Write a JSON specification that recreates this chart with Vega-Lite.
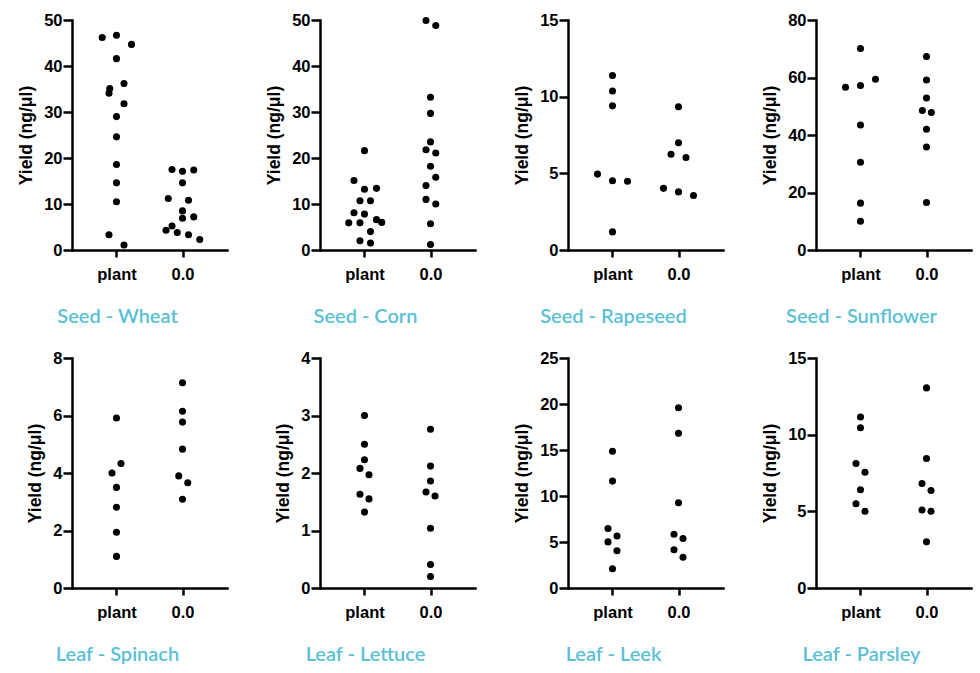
{
  "$schema": "https://vega.github.io/schema/vega-lite/v6.json",
  "background": "white",
  "padding": {"left": 17, "top": 12, "right": 5, "bottom": 5},
  "datasets": {
    "yields": [
      {"panel": "Seed - Wheat", "group": "plant", "yield": 46.2, "lane": -1.9},
      {"panel": "Seed - Wheat", "group": "plant", "yield": 46.7, "lane": 0},
      {"panel": "Seed - Wheat", "group": "plant", "yield": 44.7, "lane": 2},
      {"panel": "Seed - Wheat", "group": "plant", "yield": 41.6, "lane": 0},
      {"panel": "Seed - Wheat", "group": "plant", "yield": 36.2, "lane": 1},
      {"panel": "Seed - Wheat", "group": "plant", "yield": 35.1, "lane": -0.9},
      {"panel": "Seed - Wheat", "group": "plant", "yield": 34.1, "lane": -1},
      {"panel": "Seed - Wheat", "group": "plant", "yield": 31.8, "lane": 1},
      {"panel": "Seed - Wheat", "group": "plant", "yield": 29.0, "lane": 0},
      {"panel": "Seed - Wheat", "group": "plant", "yield": 24.6, "lane": 0},
      {"panel": "Seed - Wheat", "group": "plant", "yield": 18.6, "lane": 0},
      {"panel": "Seed - Wheat", "group": "plant", "yield": 14.6, "lane": 0},
      {"panel": "Seed - Wheat", "group": "plant", "yield": 10.5, "lane": 0},
      {"panel": "Seed - Wheat", "group": "plant", "yield": 3.3, "lane": -1},
      {"panel": "Seed - Wheat", "group": "plant", "yield": 1.1, "lane": 1},
      {"panel": "Seed - Wheat", "group": "0.0", "yield": 17.5, "lane": -1.4},
      {"panel": "Seed - Wheat", "group": "0.0", "yield": 17.1, "lane": 0},
      {"panel": "Seed - Wheat", "group": "0.0", "yield": 17.4, "lane": 1.5},
      {"panel": "Seed - Wheat", "group": "0.0", "yield": 14.6, "lane": 0},
      {"panel": "Seed - Wheat", "group": "0.0", "yield": 11.2, "lane": -1.9},
      {"panel": "Seed - Wheat", "group": "0.0", "yield": 10.8, "lane": 0.8},
      {"panel": "Seed - Wheat", "group": "0.0", "yield": 8.5, "lane": 0},
      {"panel": "Seed - Wheat", "group": "0.0", "yield": 6.9, "lane": 0},
      {"panel": "Seed - Wheat", "group": "0.0", "yield": 7.2, "lane": 1.5},
      {"panel": "Seed - Wheat", "group": "0.0", "yield": 5.2, "lane": -1.4},
      {"panel": "Seed - Wheat", "group": "0.0", "yield": 4.3, "lane": -2.2},
      {"panel": "Seed - Wheat", "group": "0.0", "yield": 3.8, "lane": -0.7},
      {"panel": "Seed - Wheat", "group": "0.0", "yield": 3.3, "lane": 0.8},
      {"panel": "Seed - Wheat", "group": "0.0", "yield": 2.3, "lane": 2.3},

      {"panel": "Seed - Corn", "group": "plant", "yield": 21.6, "lane": 0},
      {"panel": "Seed - Corn", "group": "plant", "yield": 15.1, "lane": -1.4},
      {"panel": "Seed - Corn", "group": "plant", "yield": 13.2, "lane": 0},
      {"panel": "Seed - Corn", "group": "plant", "yield": 13.4, "lane": 1.6},
      {"panel": "Seed - Corn", "group": "plant", "yield": 10.7, "lane": -0.6},
      {"panel": "Seed - Corn", "group": "plant", "yield": 10.7, "lane": 0.8},
      {"panel": "Seed - Corn", "group": "plant", "yield": 8.1, "lane": -1.4},
      {"panel": "Seed - Corn", "group": "plant", "yield": 7.8, "lane": 0},
      {"panel": "Seed - Corn", "group": "plant", "yield": 5.9, "lane": -2.1},
      {"panel": "Seed - Corn", "group": "plant", "yield": 5.9, "lane": -0.6},
      {"panel": "Seed - Corn", "group": "plant", "yield": 6.6, "lane": 1.6},
      {"panel": "Seed - Corn", "group": "plant", "yield": 6.0, "lane": 2.3},
      {"panel": "Seed - Corn", "group": "plant", "yield": 4.0, "lane": 0.8},
      {"panel": "Seed - Corn", "group": "plant", "yield": 2.0, "lane": -0.6},
      {"panel": "Seed - Corn", "group": "plant", "yield": 1.5, "lane": 0.8},
      {"panel": "Seed - Corn", "group": "0.0", "yield": 49.9, "lane": -0.6},
      {"panel": "Seed - Corn", "group": "0.0", "yield": 48.8, "lane": 0.7},
      {"panel": "Seed - Corn", "group": "0.0", "yield": 33.2, "lane": 0},
      {"panel": "Seed - Corn", "group": "0.0", "yield": 29.7, "lane": 0},
      {"panel": "Seed - Corn", "group": "0.0", "yield": 23.5, "lane": 0},
      {"panel": "Seed - Corn", "group": "0.0", "yield": 21.8, "lane": -0.6},
      {"panel": "Seed - Corn", "group": "0.0", "yield": 21.1, "lane": 0.7},
      {"panel": "Seed - Corn", "group": "0.0", "yield": 18.2, "lane": 0},
      {"panel": "Seed - Corn", "group": "0.0", "yield": 15.8, "lane": 0.7},
      {"panel": "Seed - Corn", "group": "0.0", "yield": 14.0, "lane": -0.6},
      {"panel": "Seed - Corn", "group": "0.0", "yield": 11.0, "lane": -0.6},
      {"panel": "Seed - Corn", "group": "0.0", "yield": 10.0, "lane": 0.7},
      {"panel": "Seed - Corn", "group": "0.0", "yield": 5.7, "lane": 0},
      {"panel": "Seed - Corn", "group": "0.0", "yield": 1.2, "lane": 0},

      {"panel": "Seed - Rapeseed", "group": "plant", "yield": 11.38, "lane": 0},
      {"panel": "Seed - Rapeseed", "group": "plant", "yield": 10.37, "lane": 0},
      {"panel": "Seed - Rapeseed", "group": "plant", "yield": 9.4, "lane": 0},
      {"panel": "Seed - Rapeseed", "group": "plant", "yield": 4.95, "lane": -2},
      {"panel": "Seed - Rapeseed", "group": "plant", "yield": 4.52, "lane": 0},
      {"panel": "Seed - Rapeseed", "group": "plant", "yield": 4.48, "lane": 2},
      {"panel": "Seed - Rapeseed", "group": "plant", "yield": 1.18, "lane": 0},
      {"panel": "Seed - Rapeseed", "group": "0.0", "yield": 9.34, "lane": 0},
      {"panel": "Seed - Rapeseed", "group": "0.0", "yield": 6.99, "lane": 0},
      {"panel": "Seed - Rapeseed", "group": "0.0", "yield": 6.24, "lane": -1},
      {"panel": "Seed - Rapeseed", "group": "0.0", "yield": 6.03, "lane": 1},
      {"panel": "Seed - Rapeseed", "group": "0.0", "yield": 4.02, "lane": -2},
      {"panel": "Seed - Rapeseed", "group": "0.0", "yield": 3.79, "lane": 0},
      {"panel": "Seed - Rapeseed", "group": "0.0", "yield": 3.55, "lane": 2},

      {"panel": "Seed - Sunflower", "group": "plant", "yield": 70.1, "lane": 0},
      {"panel": "Seed - Sunflower", "group": "plant", "yield": 59.4, "lane": 2},
      {"panel": "Seed - Sunflower", "group": "plant", "yield": 57.2, "lane": 0},
      {"panel": "Seed - Sunflower", "group": "plant", "yield": 56.6, "lane": -2},
      {"panel": "Seed - Sunflower", "group": "plant", "yield": 43.5, "lane": 0},
      {"panel": "Seed - Sunflower", "group": "plant", "yield": 30.5, "lane": 0},
      {"panel": "Seed - Sunflower", "group": "plant", "yield": 16.3, "lane": 0},
      {"panel": "Seed - Sunflower", "group": "plant", "yield": 10.0, "lane": 0},
      {"panel": "Seed - Sunflower", "group": "0.0", "yield": 67.3, "lane": 0},
      {"panel": "Seed - Sunflower", "group": "0.0", "yield": 59.1, "lane": 0},
      {"panel": "Seed - Sunflower", "group": "0.0", "yield": 52.9, "lane": 0},
      {"panel": "Seed - Sunflower", "group": "0.0", "yield": 48.5, "lane": -0.55},
      {"panel": "Seed - Sunflower", "group": "0.0", "yield": 47.8, "lane": 0.65},
      {"panel": "Seed - Sunflower", "group": "0.0", "yield": 42.0, "lane": 0},
      {"panel": "Seed - Sunflower", "group": "0.0", "yield": 35.8, "lane": 0},
      {"panel": "Seed - Sunflower", "group": "0.0", "yield": 16.5, "lane": 0},

      {"panel": "Leaf - Spinach", "group": "plant", "yield": 5.91, "lane": 0},
      {"panel": "Leaf - Spinach", "group": "plant", "yield": 4.33, "lane": 0.6},
      {"panel": "Leaf - Spinach", "group": "plant", "yield": 4.0, "lane": -0.6},
      {"panel": "Leaf - Spinach", "group": "plant", "yield": 3.5, "lane": 0},
      {"panel": "Leaf - Spinach", "group": "plant", "yield": 2.81, "lane": 0},
      {"panel": "Leaf - Spinach", "group": "plant", "yield": 1.94, "lane": 0},
      {"panel": "Leaf - Spinach", "group": "plant", "yield": 1.1, "lane": 0},
      {"panel": "Leaf - Spinach", "group": "0.0", "yield": 7.14, "lane": 0},
      {"panel": "Leaf - Spinach", "group": "0.0", "yield": 6.15, "lane": 0},
      {"panel": "Leaf - Spinach", "group": "0.0", "yield": 5.77, "lane": 0},
      {"panel": "Leaf - Spinach", "group": "0.0", "yield": 4.83, "lane": 0},
      {"panel": "Leaf - Spinach", "group": "0.0", "yield": 3.9, "lane": -0.5},
      {"panel": "Leaf - Spinach", "group": "0.0", "yield": 3.66, "lane": 0.7},
      {"panel": "Leaf - Spinach", "group": "0.0", "yield": 3.09, "lane": 0},

      {"panel": "Leaf - Lettuce", "group": "plant", "yield": 3.0, "lane": 0},
      {"panel": "Leaf - Lettuce", "group": "plant", "yield": 2.5, "lane": 0},
      {"panel": "Leaf - Lettuce", "group": "plant", "yield": 2.23, "lane": 0},
      {"panel": "Leaf - Lettuce", "group": "plant", "yield": 2.08, "lane": -0.6},
      {"panel": "Leaf - Lettuce", "group": "plant", "yield": 1.97, "lane": 0.6},
      {"panel": "Leaf - Lettuce", "group": "plant", "yield": 1.63, "lane": -0.6},
      {"panel": "Leaf - Lettuce", "group": "plant", "yield": 1.55, "lane": 0.6},
      {"panel": "Leaf - Lettuce", "group": "plant", "yield": 1.32, "lane": 0},
      {"panel": "Leaf - Lettuce", "group": "0.0", "yield": 2.76, "lane": 0},
      {"panel": "Leaf - Lettuce", "group": "0.0", "yield": 2.12, "lane": 0},
      {"panel": "Leaf - Lettuce", "group": "0.0", "yield": 1.86, "lane": 0},
      {"panel": "Leaf - Lettuce", "group": "0.0", "yield": 1.67, "lane": -0.6},
      {"panel": "Leaf - Lettuce", "group": "0.0", "yield": 1.6, "lane": 0.6},
      {"panel": "Leaf - Lettuce", "group": "0.0", "yield": 1.04, "lane": 0},
      {"panel": "Leaf - Lettuce", "group": "0.0", "yield": 0.41, "lane": 0},
      {"panel": "Leaf - Lettuce", "group": "0.0", "yield": 0.2, "lane": 0},

      {"panel": "Leaf - Leek", "group": "plant", "yield": 14.86, "lane": 0},
      {"panel": "Leaf - Leek", "group": "plant", "yield": 11.62, "lane": 0},
      {"panel": "Leaf - Leek", "group": "plant", "yield": 6.46, "lane": -0.6},
      {"panel": "Leaf - Leek", "group": "plant", "yield": 5.66, "lane": 0.6},
      {"panel": "Leaf - Leek", "group": "plant", "yield": 5.01, "lane": -0.6},
      {"panel": "Leaf - Leek", "group": "plant", "yield": 4.04, "lane": 0.6},
      {"panel": "Leaf - Leek", "group": "plant", "yield": 2.09, "lane": 0},
      {"panel": "Leaf - Leek", "group": "0.0", "yield": 19.59, "lane": 0},
      {"panel": "Leaf - Leek", "group": "0.0", "yield": 16.81, "lane": 0},
      {"panel": "Leaf - Leek", "group": "0.0", "yield": 9.27, "lane": 0},
      {"panel": "Leaf - Leek", "group": "0.0", "yield": 5.84, "lane": -0.6},
      {"panel": "Leaf - Leek", "group": "0.0", "yield": 5.38, "lane": 0.6},
      {"panel": "Leaf - Leek", "group": "0.0", "yield": 4.15, "lane": -0.6},
      {"panel": "Leaf - Leek", "group": "0.0", "yield": 3.35, "lane": 0.6},

      {"panel": "Leaf - Parsley", "group": "plant", "yield": 11.15, "lane": 0},
      {"panel": "Leaf - Parsley", "group": "plant", "yield": 10.45, "lane": 0},
      {"panel": "Leaf - Parsley", "group": "plant", "yield": 8.12, "lane": -0.6},
      {"panel": "Leaf - Parsley", "group": "plant", "yield": 7.55, "lane": 0.6},
      {"panel": "Leaf - Parsley", "group": "plant", "yield": 6.41, "lane": 0},
      {"panel": "Leaf - Parsley", "group": "plant", "yield": 5.5, "lane": -0.6},
      {"panel": "Leaf - Parsley", "group": "plant", "yield": 5.0, "lane": 0.6},
      {"panel": "Leaf - Parsley", "group": "0.0", "yield": 13.05, "lane": 0},
      {"panel": "Leaf - Parsley", "group": "0.0", "yield": 8.44, "lane": 0},
      {"panel": "Leaf - Parsley", "group": "0.0", "yield": 6.82, "lane": -0.6},
      {"panel": "Leaf - Parsley", "group": "0.0", "yield": 6.36, "lane": 0.6},
      {"panel": "Leaf - Parsley", "group": "0.0", "yield": 5.09, "lane": -0.6},
      {"panel": "Leaf - Parsley", "group": "0.0", "yield": 5.0, "lane": 0.6},
      {"panel": "Leaf - Parsley", "group": "0.0", "yield": 3.01, "lane": 0}
    ]
  },
  "data": {"name": "yields"},
  "columns": 4,
  "spacing": {"row": 108, "column": 93},
  "bounds": "flush",
  "concat": [
    {
      "width": 155, "height": 230,
      "title": "Seed - Wheat",
      "transform": [{"filter": "datum.panel === 'Seed - Wheat'"}],
      "mark": {"type": "circle", "size": 50, "opacity": 1, "color": "#000"},
      "encoding": {
        "x": {"field": "group", "type": "nominal", "scale": {"type": "point", "domain": ["plant", "0.0"], "padding": 0.674, "align": 0.5}, "axis": {"title": null, "labelAngle": 0}},
        "xOffset": {"field": "lane", "type": "quantitative", "scale": {"domain": [-1, 1], "range": [-7.5, 7.5]}},
        "y": {"field": "yield", "type": "quantitative", "scale": {"domain": [0, 50], "nice": false}, "axis": {"values": [0, 10, 20, 30, 40, 50], "title": "Yield (ng/μl)"}}
      }
    },
    {
      "width": 155, "height": 230,
      "title": "Seed - Corn",
      "transform": [{"filter": "datum.panel === 'Seed - Corn'"}],
      "mark": {"type": "circle", "size": 50, "opacity": 1, "color": "#000"},
      "encoding": {
        "x": {"field": "group", "type": "nominal", "scale": {"type": "point", "domain": ["plant", "0.0"], "padding": 0.674, "align": 0.5}, "axis": {"title": null, "labelAngle": 0}},
        "xOffset": {"field": "lane", "type": "quantitative", "scale": {"domain": [-1, 1], "range": [-7.5, 7.5]}},
        "y": {"field": "yield", "type": "quantitative", "scale": {"domain": [0, 50], "nice": false}, "axis": {"values": [0, 10, 20, 30, 40, 50], "title": "Yield (ng/μl)"}}
      }
    },
    {
      "width": 155, "height": 230,
      "title": "Seed - Rapeseed",
      "transform": [{"filter": "datum.panel === 'Seed - Rapeseed'"}],
      "mark": {"type": "circle", "size": 50, "opacity": 1, "color": "#000"},
      "encoding": {
        "x": {"field": "group", "type": "nominal", "scale": {"type": "point", "domain": ["plant", "0.0"], "padding": 0.674, "align": 0.5}, "axis": {"title": null, "labelAngle": 0}},
        "xOffset": {"field": "lane", "type": "quantitative", "scale": {"domain": [-1, 1], "range": [-7.5, 7.5]}},
        "y": {"field": "yield", "type": "quantitative", "scale": {"domain": [0, 15], "nice": false}, "axis": {"values": [0, 5, 10, 15], "title": "Yield (ng/μl)"}}
      }
    },
    {
      "width": 155, "height": 230,
      "title": "Seed - Sunflower",
      "transform": [{"filter": "datum.panel === 'Seed - Sunflower'"}],
      "mark": {"type": "circle", "size": 50, "opacity": 1, "color": "#000"},
      "encoding": {
        "x": {"field": "group", "type": "nominal", "scale": {"type": "point", "domain": ["plant", "0.0"], "padding": 0.674, "align": 0.5}, "axis": {"title": null, "labelAngle": 0}},
        "xOffset": {"field": "lane", "type": "quantitative", "scale": {"domain": [-1, 1], "range": [-7.5, 7.5]}},
        "y": {"field": "yield", "type": "quantitative", "scale": {"domain": [0, 80], "nice": false}, "axis": {"values": [0, 20, 40, 60, 80], "title": "Yield (ng/μl)"}}
      }
    },
    {
      "width": 155, "height": 230,
      "title": "Leaf - Spinach",
      "transform": [{"filter": "datum.panel === 'Leaf - Spinach'"}],
      "mark": {"type": "circle", "size": 50, "opacity": 1, "color": "#000"},
      "encoding": {
        "x": {"field": "group", "type": "nominal", "scale": {"type": "point", "domain": ["plant", "0.0"], "padding": 0.674, "align": 0.5}, "axis": {"title": null, "labelAngle": 0}},
        "xOffset": {"field": "lane", "type": "quantitative", "scale": {"domain": [-1, 1], "range": [-7.5, 7.5]}},
        "y": {"field": "yield", "type": "quantitative", "scale": {"domain": [0, 8], "nice": false}, "axis": {"values": [0, 2, 4, 6, 8], "title": "Yield (ng/μl)"}}
      }
    },
    {
      "width": 155, "height": 230,
      "title": "Leaf - Lettuce",
      "transform": [{"filter": "datum.panel === 'Leaf - Lettuce'"}],
      "mark": {"type": "circle", "size": 50, "opacity": 1, "color": "#000"},
      "encoding": {
        "x": {"field": "group", "type": "nominal", "scale": {"type": "point", "domain": ["plant", "0.0"], "padding": 0.674, "align": 0.5}, "axis": {"title": null, "labelAngle": 0}},
        "xOffset": {"field": "lane", "type": "quantitative", "scale": {"domain": [-1, 1], "range": [-7.5, 7.5]}},
        "y": {"field": "yield", "type": "quantitative", "scale": {"domain": [0, 4], "nice": false}, "axis": {"values": [0, 1, 2, 3, 4], "title": "Yield (ng/μl)"}}
      }
    },
    {
      "width": 155, "height": 230,
      "title": "Leaf - Leek",
      "transform": [{"filter": "datum.panel === 'Leaf - Leek'"}],
      "mark": {"type": "circle", "size": 50, "opacity": 1, "color": "#000"},
      "encoding": {
        "x": {"field": "group", "type": "nominal", "scale": {"type": "point", "domain": ["plant", "0.0"], "padding": 0.674, "align": 0.5}, "axis": {"title": null, "labelAngle": 0}},
        "xOffset": {"field": "lane", "type": "quantitative", "scale": {"domain": [-1, 1], "range": [-7.5, 7.5]}},
        "y": {"field": "yield", "type": "quantitative", "scale": {"domain": [0, 25], "nice": false}, "axis": {"values": [0, 5, 10, 15, 20, 25], "title": "Yield (ng/μl)"}}
      }
    },
    {
      "width": 155, "height": 230,
      "title": "Leaf - Parsley",
      "transform": [{"filter": "datum.panel === 'Leaf - Parsley'"}],
      "mark": {"type": "circle", "size": 50, "opacity": 1, "color": "#000"},
      "encoding": {
        "x": {"field": "group", "type": "nominal", "scale": {"type": "point", "domain": ["plant", "0.0"], "padding": 0.674, "align": 0.5}, "axis": {"title": null, "labelAngle": 0}},
        "xOffset": {"field": "lane", "type": "quantitative", "scale": {"domain": [-1, 1], "range": [-7.5, 7.5]}},
        "y": {"field": "yield", "type": "quantitative", "scale": {"domain": [0, 15], "nice": false}, "axis": {"values": [0, 5, 10, 15], "title": "Yield (ng/μl)"}}
      }
    }
  ],
  "config": {
    "view": {"stroke": null},
    "axis": {
      "grid": false,
      "domainColor": "#000",
      "domainWidth": 2.5,
      "domainCap": "square",
      "tickColor": "#000",
      "tickWidth": 2.5,
      "labelFont": "Liberation Sans",
      "labelFontWeight": "bold",
      "labelFontSize": 16.5,
      "labelColor": "#000",
      "titleFont": "Liberation Sans",
      "titleFontWeight": "bold",
      "titleFontSize": 17.5,
      "titleColor": "#000"
    },
    "axisY": {"tickSize": 9, "labelPadding": 1, "titlePadding": 8},
    "axisX": {"tickSize": 7, "labelPadding": 9},
    "title": {
      "orient": "bottom",
      "anchor": "middle",
      "frame": "group",
      "dx": -32,
      "offset": 24,
      "font": "Lato",
      "fontSize": 20,
      "fontWeight": 600,
      "color": "#5bbfd6"
    }
  }
}
